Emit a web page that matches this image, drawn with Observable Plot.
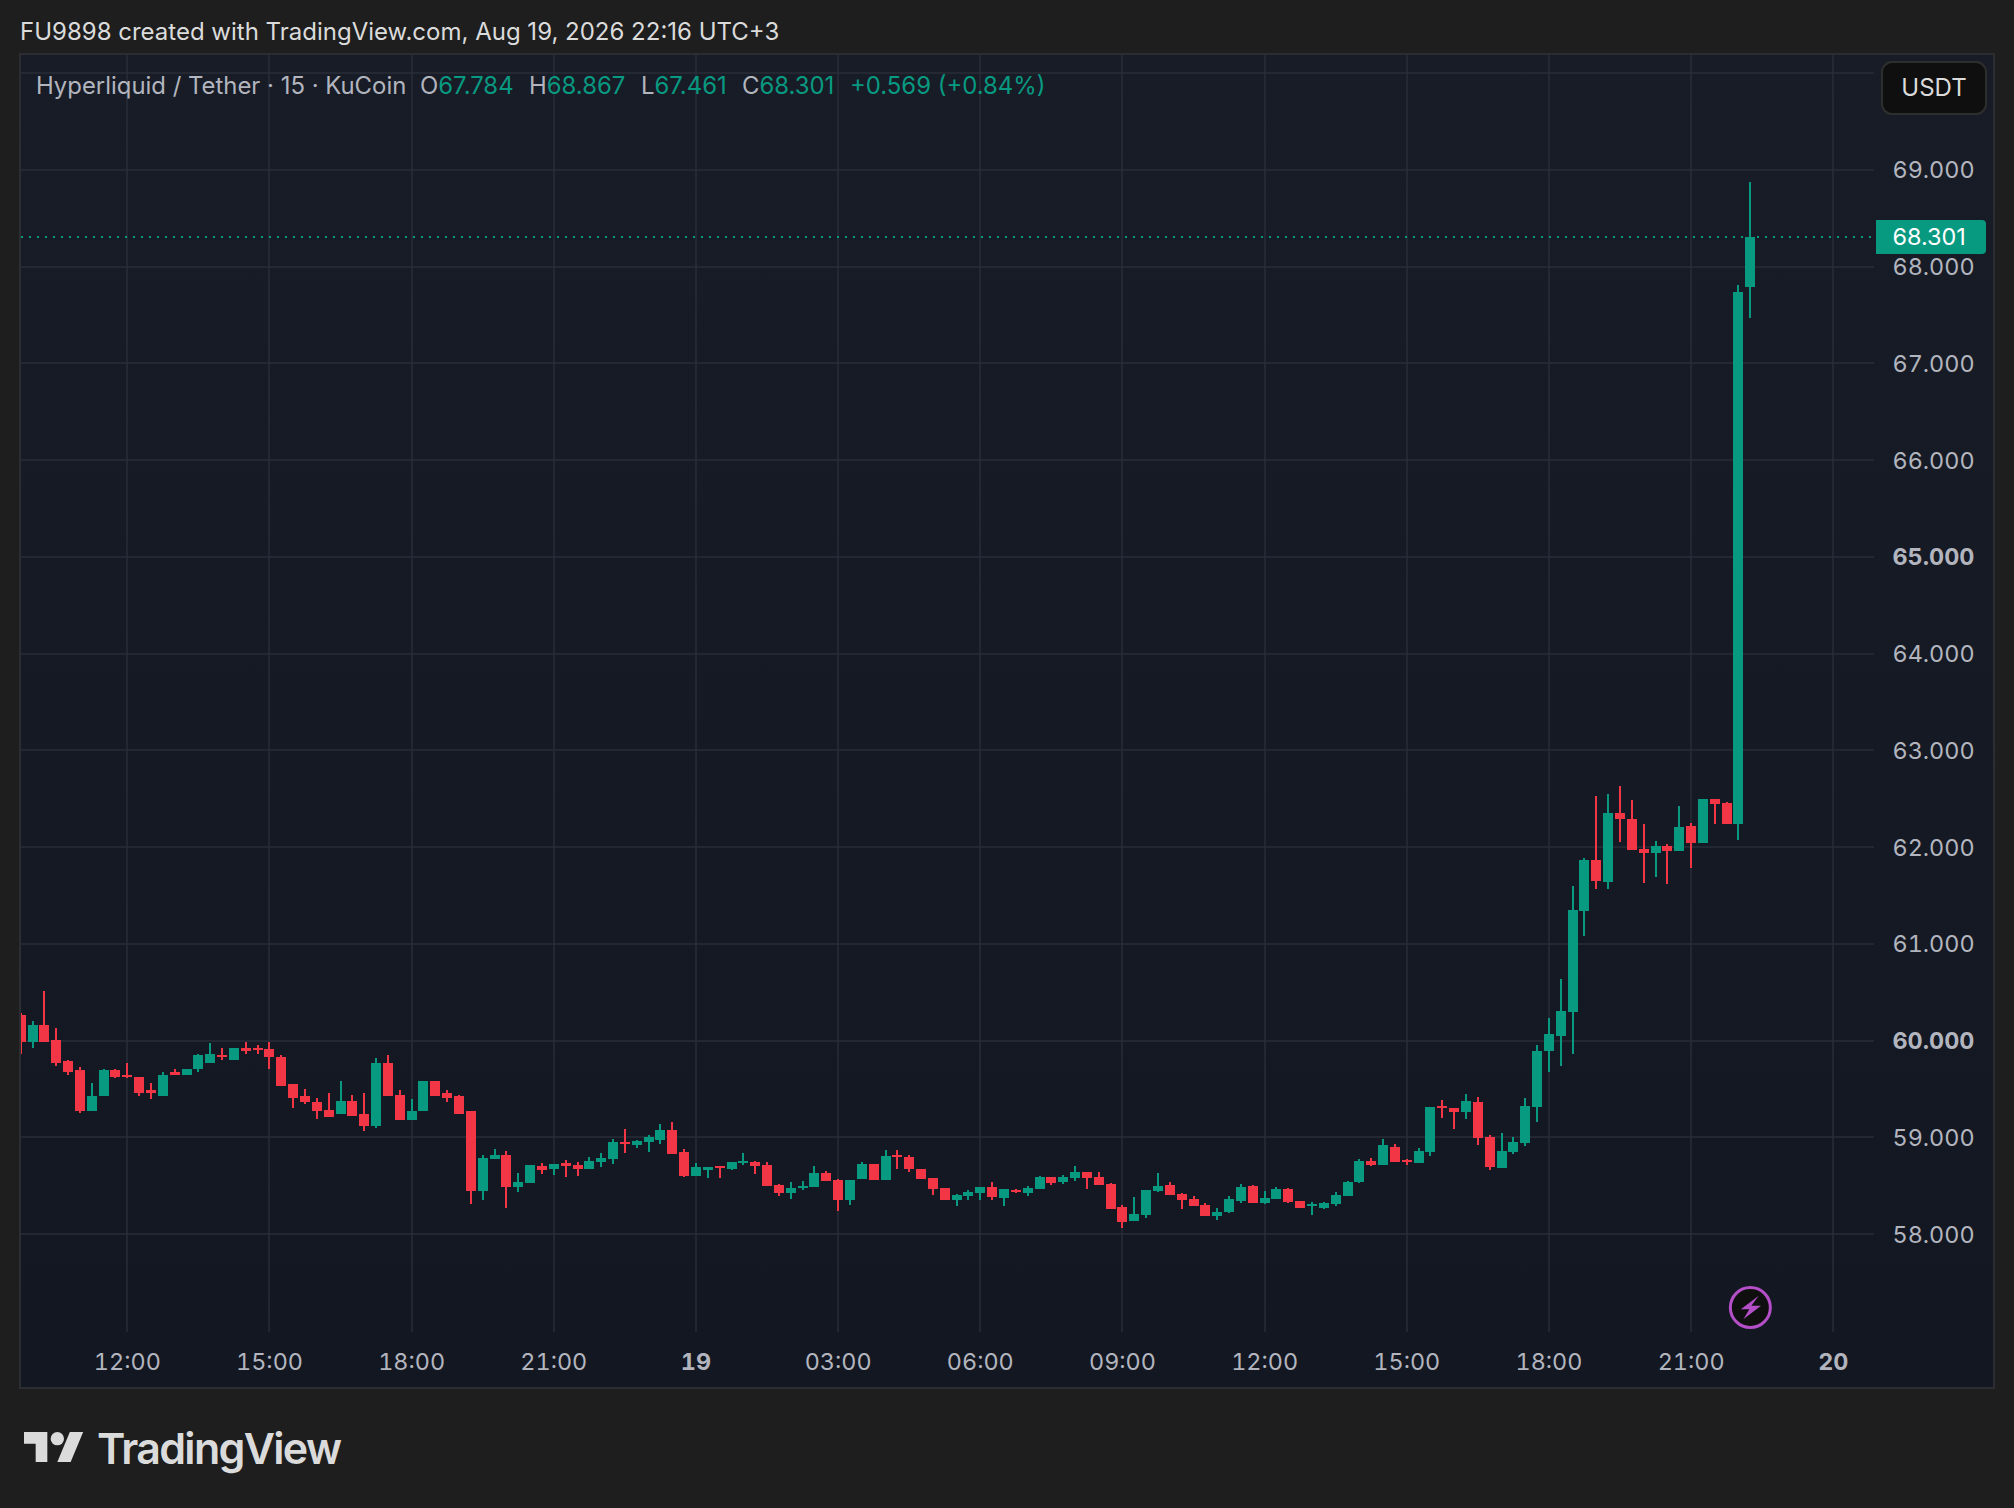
<!DOCTYPE html>
<html>
<head>
<meta charset="utf-8">
<script src="https://cdn.jsdelivr.net/npm/d3@7"></script>
<script src="https://cdn.jsdelivr.net/npm/@observablehq/plot@0.6"></script>
<style>
  html, body { margin: 0; padding: 0; background: #1e1e1e; width: 2014px; height: 1508px; overflow: hidden; }
  body { font-family: Inter, "Noto Sans", sans-serif; position: relative; }
  .abs { position: absolute; white-space: nowrap; line-height: 1; }
  #panel { position: absolute; left: 19px; top: 53px; width: 1976px; height: 1336px; box-sizing: border-box;
           border: 2px solid #2c2d30; background: linear-gradient(180deg, #181c27 0%, #131722 100%); }
  #panel svg { position: absolute; left: 0; top: 0; background: transparent; }
  #head { left: 20px; top: 20px; font-size: 24px; color: #dbdbdb; }
  .leg { top: 74px; font-size: 23.9px; color: #b2b5be; }
  .up { color: #089981; }
  #usdt { left: 1881px; top: 61px; width: 106px; height: 54px; box-sizing: border-box; background: #0f0f0f;
          border: 2px solid #2e2e2e; border-radius: 11px; color: #dbdbdb; font-size: 24px;
          display: flex; align-items: center; justify-content: center; }
  #logoText { left: 97px; top: 1427px; font-size: 43px; font-weight: 600; color: #dbdbdb; letter-spacing: -1.7px; }
</style>
</head>
<body>
<div id="panel"></div>
<div class="abs" id="head">FU9898 created with TradingView.com, Aug 19, 2026 22:16 UTC+3</div>
<div class="abs leg" style="left:36px">Hyperliquid / Tether · 15 · KuCoin</div>
<div class="abs leg" style="left:420px">O<span class="up">67.784</span></div>
<div class="abs leg" style="left:529px">H<span class="up">68.867</span></div>
<div class="abs leg" style="left:641px">L<span class="up">67.461</span></div>
<div class="abs leg" style="left:742px">C<span class="up">68.301</span></div>
<div class="abs leg up" style="left:850px">+0.569 (+0.84%)</div>
<div class="abs" id="usdt">USDT</div>
<svg class="abs" style="left:24px;top:1432px" width="60" height="30" viewBox="0 4 36 18">
  <path fill="#dbdbdb" d="M14 22H7V11H0V4h14v18zM28 22h-8l7.5-18h8L28 22z"/><circle fill="#dbdbdb" cx="20" cy="8" r="4"/>
</svg>
<div class="abs" id="logoText">TradingView</div>
<script>
const opens = [
60.255,59.976,60.152,59.997,59.780,59.687,59.263,59.418,59.687,59.645,
59.624,59.480,59.418,59.666,59.645,59.697,59.769,59.842,59.800,59.924,
59.914,59.904,59.831,59.552,59.418,59.366,59.283,59.232,59.376,59.242,
59.118,59.769,59.438,59.180,59.273,59.573,59.449,59.418,59.263,58.436,
58.777,58.814,58.483,58.525,58.700,58.669,58.731,58.711,58.669,58.742,
58.773,58.948,58.917,58.948,58.969,59.072,58.845,58.597,58.659,58.700,
58.669,58.731,58.742,58.711,58.504,58.421,58.473,58.483,58.628,58.556,
58.349,58.566,58.721,58.556,58.814,58.793,58.669,58.576,58.473,58.349,
58.390,58.421,58.483,58.370,58.452,58.421,58.463,58.587,58.535,58.576,
58.638,58.587,58.514,58.277,58.132,58.194,58.442,58.504,58.411,58.359,
58.297,58.184,58.225,58.339,58.494,58.318,58.359,58.463,58.339,58.287,
58.266,58.308,58.390,58.535,58.752,58.711,58.897,58.762,58.731,58.845,
59.320,59.300,59.258,59.361,59.000,58.679,58.844,58.937,59.310,59.888,
60.043,60.291,61.335,61.862,61.635,62.348,62.286,61.976,61.935,62.007,
61.955,62.214,62.038,62.493,62.451,62.234,67.784];
const highs = [
60.276,60.203,60.503,60.121,59.800,59.718,59.562,59.697,59.697,59.759,
59.624,59.562,59.676,59.707,59.707,59.862,59.966,59.924,59.924,59.986,
59.955,59.976,59.842,59.552,59.500,59.407,59.449,59.573,59.438,59.459,
59.811,59.842,59.480,59.397,59.583,59.573,59.490,59.438,59.263,58.818,
58.880,58.855,58.628,58.711,58.731,58.721,58.762,58.742,58.793,58.835,
58.979,59.083,58.969,59.021,59.134,59.155,58.876,58.731,58.690,58.700,
58.742,58.835,58.752,58.742,58.514,58.535,58.545,58.700,58.649,58.566,
58.556,58.742,58.721,58.866,58.866,58.814,58.669,58.576,58.473,58.411,
58.452,58.483,58.535,58.463,58.463,58.494,58.597,58.587,58.607,58.700,
58.638,58.638,58.525,58.297,58.380,58.452,58.628,58.535,58.421,58.390,
58.318,58.266,58.390,58.514,58.504,58.442,58.483,58.473,58.339,58.328,
58.328,58.432,58.545,58.773,58.783,58.979,58.928,58.773,58.886,59.310,
59.382,59.300,59.444,59.413,59.020,59.041,59.000,59.402,59.950,60.229,
60.632,61.593,61.883,62.524,62.544,62.627,62.482,62.234,62.059,62.028,
62.420,62.245,62.493,62.493,62.462,67.804,68.867];
const lows = [
59.862,59.914,59.986,59.728,59.645,59.252,59.263,59.418,59.614,59.604,
59.428,59.387,59.418,59.645,59.645,59.676,59.769,59.790,59.790,59.862,
59.862,59.707,59.531,59.294,59.345,59.190,59.211,59.232,59.221,59.066,
59.097,59.428,59.180,59.170,59.273,59.428,59.366,59.242,58.302,58.353,
58.767,58.266,58.432,58.525,58.618,58.607,58.587,58.597,58.669,58.690,
58.721,58.835,58.886,58.845,58.928,58.824,58.587,58.597,58.576,58.576,
58.659,58.711,58.618,58.494,58.390,58.359,58.452,58.483,58.545,58.235,
58.297,58.566,58.556,58.556,58.669,58.638,58.566,58.401,58.349,58.287,
58.349,58.349,58.349,58.287,58.421,58.390,58.463,58.504,58.514,58.545,
58.463,58.504,58.256,58.060,58.132,58.163,58.432,58.401,58.256,58.287,
58.184,58.142,58.215,58.318,58.318,58.308,58.359,58.318,58.266,58.194,
58.256,58.287,58.390,58.525,58.700,58.711,58.742,58.711,58.731,58.804,
59.196,59.083,59.185,58.917,58.658,58.679,58.824,58.906,59.154,59.671,
59.733,59.857,61.077,61.562,61.562,62.048,61.966,61.624,61.687,61.614,
61.955,61.780,62.038,62.234,62.234,62.069,67.461];
const closes = [
59.976,60.152,59.986,59.769,59.676,59.273,59.418,59.687,59.624,59.624,
59.459,59.459,59.645,59.645,59.707,59.842,59.852,59.821,59.924,59.893,
59.897,59.821,59.531,59.407,59.356,59.273,59.211,59.376,59.221,59.118,
59.769,59.428,59.180,59.273,59.573,59.428,59.407,59.242,58.436,58.787,
58.818,58.483,58.535,58.711,58.659,58.721,58.700,58.669,58.752,58.783,
58.948,58.931,58.959,59.000,59.072,58.824,58.597,58.690,58.690,58.680,
58.742,58.752,58.700,58.494,58.421,58.473,58.494,58.628,58.545,58.349,
58.556,58.721,58.556,58.804,58.793,58.669,58.566,58.463,58.349,58.401,
58.432,58.483,58.380,58.463,58.432,58.473,58.587,58.525,58.587,58.638,
58.576,58.504,58.256,58.122,58.204,58.452,58.494,58.401,58.349,58.287,
58.184,58.225,58.359,58.483,58.318,58.370,58.463,58.328,58.266,58.308,
58.318,58.401,58.535,58.752,58.711,58.917,58.742,58.742,58.855,59.310,
59.300,59.258,59.371,58.989,58.689,58.855,58.948,59.320,59.888,60.064,
60.302,61.345,61.862,61.645,62.348,62.286,61.966,61.935,62.007,61.955,
62.203,62.038,62.493,62.441,62.234,67.732,68.301];

const firstBar = "2026-08-18T09:45:00Z";
const barMinutes = 15;
const xDomain = ["2026-08-18T09:46:01Z", "2026-08-20T00:52:12Z"];
const yDomain = [56.984, 70.181];
const priceGrid = [58,59,60,61,62,63,64,65,66,67,68,69,70];
const priceLabels = [58,59,61,62,63,64,66,67,68,69];
const priceLabelsBold = [60,65];
const hourTicks = ["2026-08-18T12:00Z","2026-08-18T15:00Z","2026-08-18T18:00Z","2026-08-18T21:00Z",
  "2026-08-19T03:00Z","2026-08-19T06:00Z","2026-08-19T09:00Z","2026-08-19T12:00Z","2026-08-19T15:00Z","2026-08-19T18:00Z","2026-08-19T21:00Z"];
const dayTicks = ["2026-08-19T00:00Z","2026-08-20T00:00Z"];
const lastPrice = 68.301;
const boltPrice = 57.242;

const GREEN = "#089981", RED = "#F23645", TICK = "#b2b5be", GRID = "#2a2e39";
const FONT = 23.4;
const t0 = new Date(firstBar);
const candles = opens.map((o, i) => ({
  t: new Date(+t0 + i * barMinutes * 60000), o, h: highs[i], l: lows[i], c: closes[i]
}));
const colorOf = d => d.c >= d.o ? GREEN : RED;
const asDates = a => a.map(s => new Date(s));
const lastBar = candles[candles.length - 1];

const boltSymbol = { draw(c) {
  c.moveTo(8.4,-11.8); c.lineTo(-9.5,1.7); c.lineTo(-1,1.7); c.lineTo(-7,11.8);
  c.lineTo(10.7,-1.7); c.lineTo(1,-1.7); c.closePath();
}};

const priceBadge = (index, {y}, values, dims) => {
  const yy = y(lastPrice), x0 = dims.width - dims.marginRight + 2, x1 = x0 + 110;
  const p = d3.path();
  p.moveTo(x0, yy - 17); p.lineTo(x1 - 4, yy - 17); p.quadraticCurveTo(x1, yy - 17, x1, yy - 13);
  p.lineTo(x1, yy + 13); p.quadraticCurveTo(x1, yy + 17, x1 - 4, yy + 17); p.lineTo(x0, yy + 17); p.closePath();
  const el = document.createElementNS("http://www.w3.org/2000/svg", "path");
  el.setAttribute("d", p.toString()); el.setAttribute("fill", GREEN);
  return el;
};

const chart = Plot.plot({
  width: 1972, height: 1332,
  marginLeft: 0, marginRight: 119, marginTop: 0, marginBottom: 55,
  style: { background: "transparent", fontFamily: "Inter, sans-serif", fontSize: FONT + "px" },
  x: { type: "time", domain: asDates(xDomain) },
  y: { type: "linear", domain: yDomain },
  marks: [
    Plot.gridY({ ticks: priceGrid, stroke: GRID, strokeOpacity: 0.7, strokeWidth: 2, shapeRendering: "crispEdges" }),
    Plot.gridX({ ticks: asDates([...hourTicks, ...dayTicks]), stroke: GRID, strokeOpacity: 0.7, strokeWidth: 2, shapeRendering: "crispEdges" }),
    Plot.ruleY([lastPrice], { stroke: GREEN, strokeWidth: 2, strokeDasharray: "2 6", shapeRendering: "crispEdges" }),
    Plot.ruleX(candles, { x: "t", y1: "l", y2: "h", stroke: colorOf, strokeWidth: 2, clip: true, shapeRendering: "crispEdges" }),
    Plot.ruleX(candles, { x: "t", y1: "o", y2: "c", stroke: colorOf, strokeWidth: 10, clip: true, shapeRendering: "crispEdges" }),
    Plot.axisY({ anchor: "right", ticks: priceLabels, tickSize: 0, tickPadding: 18, dy: 1, tickFormat: d => d.toFixed(3), label: null, stroke: "none", fill: TICK, fontSize: FONT }),
    Plot.axisY({ anchor: "right", ticks: priceLabelsBold, tickSize: 0, tickPadding: 18, dy: 1, tickFormat: d => d.toFixed(3), label: null, stroke: "none", fill: TICK, fontSize: FONT, fontWeight: 700 }),
    Plot.axisX({ anchor: "bottom", ticks: asDates(hourTicks), tickSize: 0, tickPadding: 21, tickFormat: d3.utcFormat("%H:%M"), label: null, stroke: "none", fill: TICK, fontSize: FONT }),
    Plot.axisX({ anchor: "bottom", ticks: asDates(dayTicks), tickSize: 0, tickPadding: 21, tickFormat: d3.utcFormat("%-d"), label: null, stroke: "none", fill: TICK, fontSize: FONT, fontWeight: 700 }),
    priceBadge,
    Plot.text([lastPrice], { y: d => d, text: d => d.toFixed(3), frameAnchor: "right", textAnchor: "start", dx: 18, fill: "#ffffff", fontSize: FONT }),
    Plot.dot([boltPrice], { x: () => lastBar.t, y: d => d, r: 20, fill: "#0f0f0f", stroke: "#b44fc8", strokeWidth: 3 }),
    Plot.dot([boltPrice], { x: () => lastBar.t, y: d => d, symbol: boltSymbol, fill: "#b44fc8", stroke: "none" })
  ]
});
document.getElementById("panel").appendChild(chart);
</script>
</body>
</html>
